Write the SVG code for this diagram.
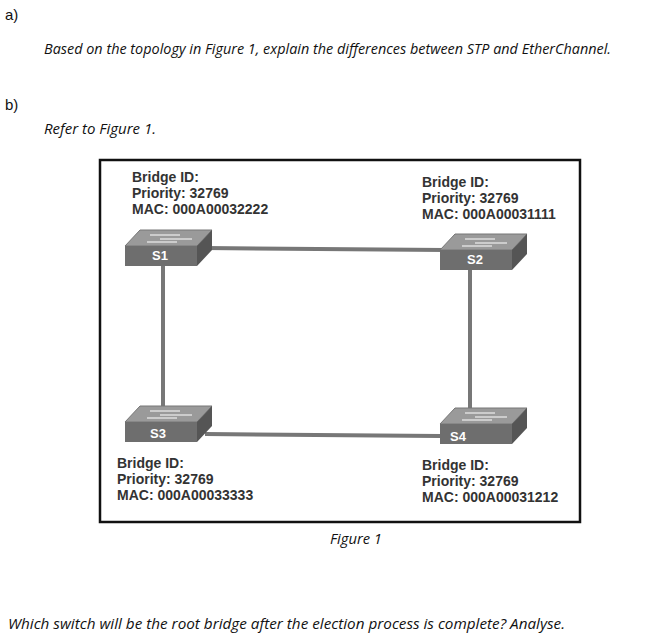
<svg xmlns="http://www.w3.org/2000/svg" width="661" height="639" viewBox="0 0 661 639">
<defs>
<style>
.q{font-family:"Open Sans","Liberation Sans",sans-serif;font-style:italic;font-size:14.5px;fill:#111}
.l{font-family:"Liberation Sans",Arial,sans-serif;font-size:15px;fill:#111}
.b{font-family:"Liberation Sans",Arial,sans-serif;font-weight:bold;font-size:14px;fill:#333}
.top{fill:#9a9a9a;stroke:#777;stroke-width:1}
.front{fill:#6e6e6e}
.side{fill:#555}
.sl{font-family:"Liberation Sans",Arial,sans-serif;font-weight:bold;font-size:13px;fill:#fff}
.ln{stroke:#777;stroke-width:4;fill:none}
</style>
<g id="sw">
<polygon class="top" points="15,0 87,0 72,16 0,16"/>
<path d="M25,5 h30 M35,9 h32 M22,12 h30" stroke="#ddd" stroke-width="1.5"/>
<rect class="front" x="0" y="16" width="72" height="20"/>
<polygon class="side" points="72,16 87,0 87,20 72,36"/>
</g>
</defs>
<rect width="661" height="639" fill="#fff"/>
<text class="l" x="5" y="20">a)</text>
<text class="q" x="44" y="54" textLength="567" lengthAdjust="spacingAndGlyphs">Based on the topology in Figure 1, explain the differences between STP and EtherChannel.</text>
<text class="l" x="5" y="110">b)</text>
<text class="q" x="44" y="134" textLength="112" lengthAdjust="spacingAndGlyphs">Refer to Figure 1.</text>
<rect x="100" y="160" width="480" height="362" fill="none" stroke="#111" stroke-width="2.5"/>
<g id="connectors">
<line class="ln" x1="205" y1="248" x2="445" y2="250"/>
<line class="ln" x1="163" y1="266" x2="163" y2="410"/>
<line class="ln" x1="470" y1="270" x2="470" y2="412"/>
<line class="ln" x1="205" y1="434" x2="440" y2="436"/>
</g>
<g id="S1"><use href="#sw" x="125" y="230"/><text class="sl" x="152" y="260">S1</text>
<text class="b" x="132" y="182">Bridge ID:</text><text class="b" x="132" y="198">Priority: 32769</text><text class="b" x="132" y="214">MAC: 000A00032222</text></g>
<g id="S2"><use href="#sw" x="440" y="234"/><text class="sl" x="467" y="264">S2</text>
<text class="b" x="422" y="187">Bridge ID:</text><text class="b" x="422" y="203">Priority: 32769</text><text class="b" x="422" y="219">MAC: 000A00031111</text></g>
<g id="S3"><use href="#sw" x="125" y="406"/><text class="sl" x="150" y="438">S3</text>
<text class="b" x="117" y="468">Bridge ID:</text><text class="b" x="117" y="484">Priority: 32769</text><text class="b" x="117" y="500">MAC: 000A00033333</text></g>
<g id="S4"><use href="#sw" x="440" y="408"/><text class="sl" x="450" y="441">S4</text>
<text class="b" x="422" y="470">Bridge ID:</text><text class="b" x="422" y="486">Priority: 32769</text><text class="b" x="422" y="502">MAC: 000A00031212</text></g>
<text class="q" x="330" y="544" textLength="52" lengthAdjust="spacingAndGlyphs">Figure 1</text>
<text class="q" x="8" y="629" textLength="557" lengthAdjust="spacingAndGlyphs">Which switch will be the root bridge after the election process is complete? Analyse.</text>
</svg>
